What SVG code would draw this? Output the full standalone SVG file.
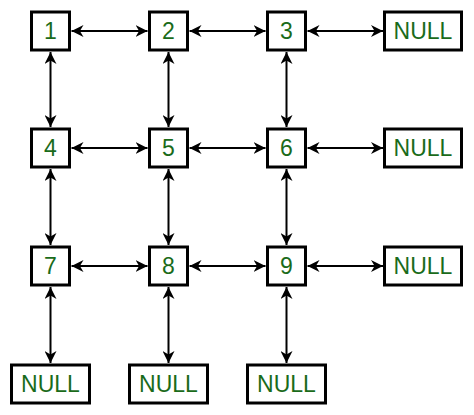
<svg xmlns="http://www.w3.org/2000/svg" width="474" height="415" viewBox="0 0 474 415">
<style>
.box{fill:#fff;stroke:#000;stroke-width:3}
.lbl{font-family:"Liberation Sans",Arial,sans-serif;font-size:23px;fill:#1a6b1a;text-anchor:middle}
.edge{stroke:#000;stroke-width:2;fill:none;marker-start:url(#arr);marker-end:url(#arr)}
</style>
<defs>
<marker id="arr" viewBox="0 0 10 10" refX="10" refY="5" markerWidth="12" markerHeight="12" markerUnits="userSpaceOnUse" orient="auto-start-reverse">
<path d="M0,0 L10,5 L0,10 L3,5 z" fill="#000"/>
</marker>
</defs>
<rect width="474" height="415" fill="#fff"/>
<g id="connectors">
<line class="edge" x1="71.5" y1="31" x2="147.5" y2="31"/>
<line class="edge" x1="189.5" y1="31" x2="265.5" y2="31"/>
<line class="edge" x1="307.5" y1="31" x2="383" y2="31"/>
<line class="edge" x1="71.5" y1="148" x2="147.5" y2="148"/>
<line class="edge" x1="189.5" y1="148" x2="265.5" y2="148"/>
<line class="edge" x1="307.5" y1="148" x2="383" y2="148"/>
<line class="edge" x1="71.5" y1="266" x2="147.5" y2="266"/>
<line class="edge" x1="189.5" y1="266" x2="265.5" y2="266"/>
<line class="edge" x1="307.5" y1="266" x2="383" y2="266"/>
<line class="edge" x1="50.5" y1="52" x2="50.5" y2="127"/>
<line class="edge" x1="168.5" y1="52" x2="168.5" y2="127"/>
<line class="edge" x1="286.5" y1="52" x2="286.5" y2="127"/>
<line class="edge" x1="50.5" y1="169" x2="50.5" y2="245"/>
<line class="edge" x1="168.5" y1="169" x2="168.5" y2="245"/>
<line class="edge" x1="286.5" y1="169" x2="286.5" y2="245"/>
<line class="edge" x1="50.5" y1="287" x2="50.5" y2="363"/>
<line class="edge" x1="168.5" y1="287" x2="168.5" y2="363"/>
<line class="edge" x1="286.5" y1="287" x2="286.5" y2="363"/>
</g>
<g id="n1"><rect class="box" x="31.5" y="12" width="38" height="38"/><text class="lbl" x="50.5" y="39">1</text></g>
<g id="n2"><rect class="box" x="149.5" y="12" width="38" height="38"/><text class="lbl" x="168.5" y="39">2</text></g>
<g id="n3"><rect class="box" x="267.5" y="12" width="38" height="38"/><text class="lbl" x="286.5" y="39">3</text></g>
<g id="null_r1"><rect class="box" x="384.5" y="12" width="77" height="38"/><text class="lbl" x="423" y="39">NULL</text></g>
<g id="n4"><rect class="box" x="31.5" y="129" width="38" height="38"/><text class="lbl" x="50.5" y="156">4</text></g>
<g id="n5"><rect class="box" x="149.5" y="129" width="38" height="38"/><text class="lbl" x="168.5" y="156">5</text></g>
<g id="n6"><rect class="box" x="267.5" y="129" width="38" height="38"/><text class="lbl" x="286.5" y="156">6</text></g>
<g id="null_r2"><rect class="box" x="384.5" y="129" width="77" height="38"/><text class="lbl" x="423" y="156">NULL</text></g>
<g id="n7"><rect class="box" x="31.5" y="247" width="38" height="38"/><text class="lbl" x="50.5" y="274">7</text></g>
<g id="n8"><rect class="box" x="149.5" y="247" width="38" height="38"/><text class="lbl" x="168.5" y="274">8</text></g>
<g id="n9"><rect class="box" x="267.5" y="247" width="38" height="38"/><text class="lbl" x="286.5" y="274">9</text></g>
<g id="null_r3"><rect class="box" x="384.5" y="247" width="77" height="38"/><text class="lbl" x="423" y="274">NULL</text></g>
<g id="null_c1"><rect class="box" x="11.5" y="365" width="78" height="38"/><text class="lbl" x="50.5" y="392">NULL</text></g>
<g id="null_c2"><rect class="box" x="129.5" y="365" width="78" height="38"/><text class="lbl" x="168.5" y="392">NULL</text></g>
<g id="null_c3"><rect class="box" x="247.5" y="365" width="78" height="38"/><text class="lbl" x="286.5" y="392">NULL</text></g>
</svg>
